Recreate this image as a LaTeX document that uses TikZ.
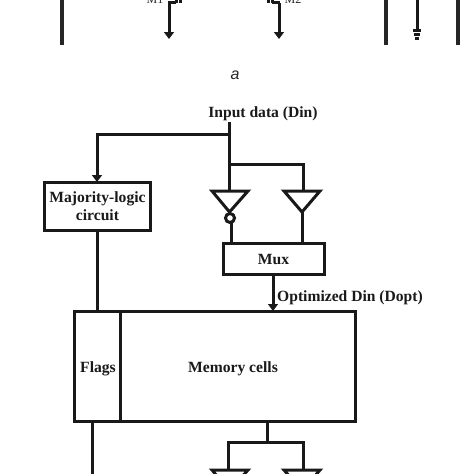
\documentclass[tikz,border=0pt]{standalone}
\usepackage{fontspec}
\setmainfont{Liberation Serif}
\setsansfont{Liberation Sans}
\usetikzlibrary{arrows.meta}
\tikzset{
  wire/.style={draw=black!90,line width=3pt},
  thick rail/.style={draw=black!85,line width=3.2pt},
  arrowwire/.style={wire,-{Triangle[width=10pt,length=7pt]}},
  blockbox/.style={draw=black!90,line width=3pt,fill=white,inner sep=0pt,outer sep=0pt,anchor=north west},
  lab/.style={font=\fontsize{15.6}{18}\selectfont\bfseries,inner sep=0pt,align=center,text=black!90},
  buf/.style={draw=black!90,line width=3pt,line join=miter,fill=white},
}
\begin{document}
\begin{tikzpicture}[x=1pt,y=-1pt]
\useasboundingbox (0,0) rectangle (474,474);
\clip (0,0) rectangle (474,474);
% part a
\coordinate (r1a) at (62,-2); \coordinate (r1b) at (62,45);
\coordinate (r2a) at (386,-2); \coordinate (r2b) at (386,45);
\coordinate (r3a) at (458,-2); \coordinate (r3b) at (458,45);
\draw[thick rail] (r1a) -- (r1b);
\draw[thick rail] (r2a) -- (r2b);
\draw[thick rail] (r3a) -- (r3b);
\coordinate (m1s) at (169,3); \coordinate (m1e) at (169,39);
\coordinate (m2s) at (279,3); \coordinate (m2e) at (279,39);
\draw[arrowwire] (m1s) -- (m1e);
\draw[arrowwire] (m2s) -- (m2e);
\draw[wire] (168,2) -- (176,2); \draw[wire] (176,-1)--(176,3);\draw[wire] (180,-1)--(180,3);
\draw[wire] (280,2) -- (272,2); \draw[wire] (272,-1)--(272,3);\draw[wire] (268,-1)--(268,3);
\node[font=\fontsize{12}{14}\selectfont,inner sep=0pt,text=black!85] (m1) at (155,0) {M1};
\node[font=\fontsize{12}{14}\selectfont,inner sep=0pt,text=black!85] (m2) at (293,0) {M2};
\coordinate (gs) at (417,-2); \coordinate (ge) at (417,30);
\draw[wire] (gs) -- (ge);
\draw[wire] (413,30) -- (421,30);
\draw[wire] (414,34) -- (420,34);
\draw[wire] (415,38) -- (419,38);
\node[font=\sffamily\itshape\fontsize{16}{18}\selectfont,inner sep=0pt,text=black!85] (a) at (235,75) {a};
% part b
\node[lab] (din) at (263,113.5) {Input data (Din)};
\node[blockbox,minimum width=106pt,minimum height=48pt] (maj) at (44,182) {};
\node[lab] (majt) at (97.5,206) {Majority-logic\\[0pt]circuit};
\node[blockbox,minimum width=101pt,minimum height=31pt] (mux) at (223,243) {};
\node[lab] (muxt) at (273.5,259.5) {Mux};
\node[blockbox,minimum width=281pt,minimum height=110pt] (mem) at (74,311) {};
\draw[wire] (120,311) -- (120,421);
\node[lab] (flags) at (98,369) {Flags};
\node[lab] (cells) at (233,369) {Memory cells};
\node[lab,anchor=west] (dopt) at (277,297.5) {Optimized Din (Dopt)};
% wires
\coordinate (top) at (229,122);
\coordinate (j1) at (229,134);
\coordinate (j2) at (229,164);
\coordinate (j3) at (303,164);
\draw[wire] (top) -- (229,191);
\draw[arrowwire] (j1) -| (97,182);
\draw[wire] (j2) -- (j3) -- (303,191);
\draw[wire] (97,230) -- (97,311);
\draw[wire] (231,222) -- (231,243);
\draw[wire] (302,212) -- (302,243);
\draw[arrowwire] (273,274) -- (273,311);
\draw[buf] (212,191) -- (248,191) -- (229.5,212) -- cycle;
\draw[buf] (284,191) -- (320,191) -- (302,212) -- cycle;
\node[draw=black!90,line width=3pt,fill=white,circle,minimum size=9pt,inner sep=0pt] (inv) at (230,218) {};
% bottom
\draw[wire] (92,421) -- (92,476);
\coordinate (j4) at (267,442);
\draw[wire] (267,421) -- (j4);
\draw[wire] (228,470) -- (228,442) -- (303,442) -- (303,470);
\draw[buf] (212,470) -- (248,470) -- (229.5,491) -- cycle;
\draw[buf] (284,470) -- (320,470) -- (302,491) -- cycle;
\end{tikzpicture}
\end{document}
